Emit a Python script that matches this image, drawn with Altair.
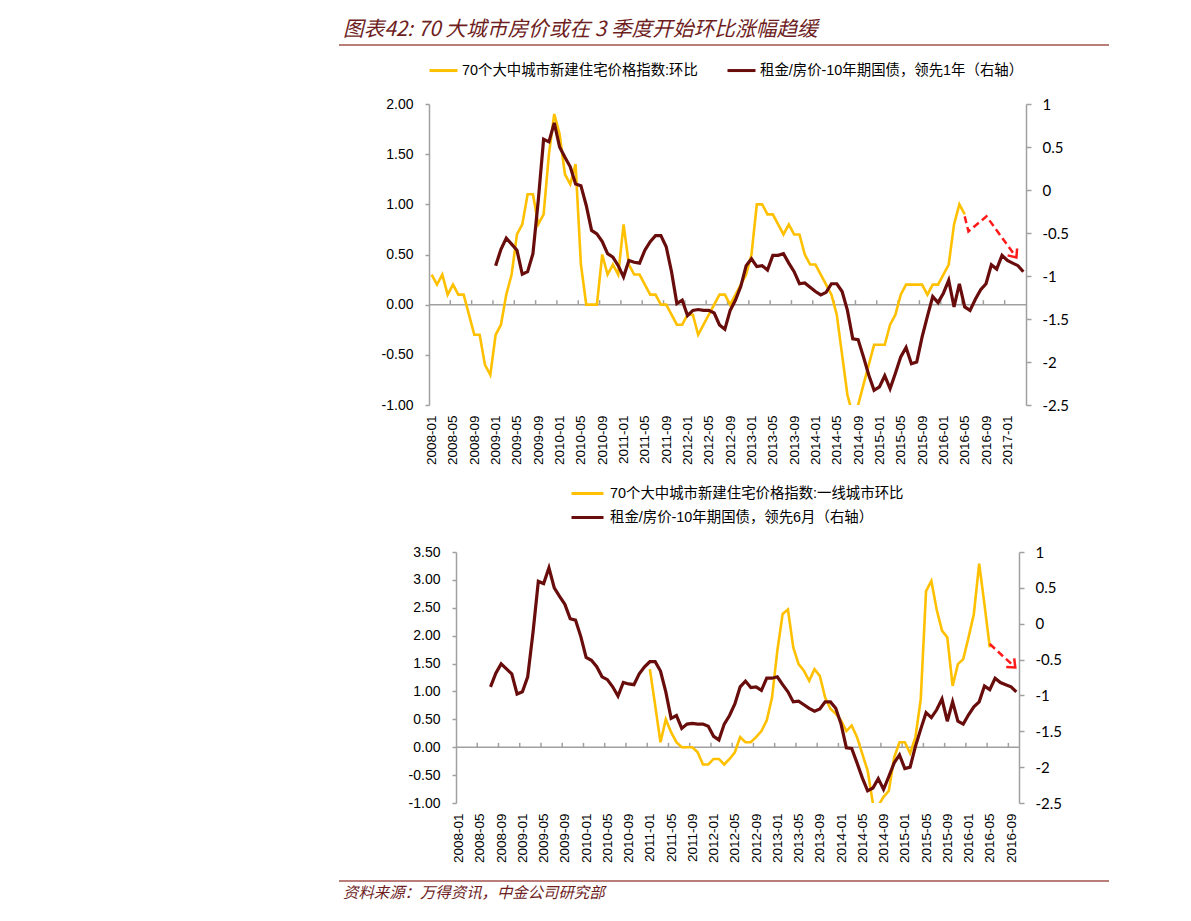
import json
import pandas as pd
import altair as alt

# ---------------- data ----------------
top_tick_labels = ["2008-01", "2008-05", "2008-09", "2009-01", "2009-05", "2009-09",
                   "2010-01", "2010-05", "2010-09", "2011-01", "2011-05", "2011-09",
                   "2012-01", "2012-05", "2012-09", "2013-01", "2013-05", "2013-09",
                   "2014-01", "2014-05", "2014-09", "2015-01", "2015-05", "2015-09",
                   "2016-01", "2016-05", "2016-09", "2017-01"]
bottom_tick_labels = top_tick_labels[:27]

# 70-city new home price index, MoM (%), monthly from 2008-01 (top chart, left axis)
city70_mom = [0.3, 0.2, 0.3, 0.1, 0.2, 0.1, 0.1, -0.1, -0.3, -0.3,
              -0.6, -0.7, -0.3, -0.2, 0.1, 0.3, 0.7, 0.8, 1.1, 1.1,
              0.8, 0.9, 1.5, 1.9, 1.7, 1.3, 1.2, 1.4, 0.4, 0.0,
              0.0, 0.0, 0.5, 0.3, 0.4, 0.3, 0.8, 0.4, 0.3, 0.3,
              0.2, 0.1, 0.1, 0.0, 0.0, -0.1, -0.2, -0.2, -0.1, -0.1,
              -0.3, -0.2, -0.1, 0.0, 0.1, 0.1, 0.0, 0.1, 0.2, 0.3,
              0.5, 1.0, 1.0, 0.9, 0.9, 0.8, 0.7, 0.8, 0.7, 0.7,
              0.5, 0.4, 0.4, 0.3, 0.2, 0.1, -0.1, -0.5, -0.9, -1.1,
              -1.0, -0.8, -0.6, -0.4, -0.4, -0.4, -0.2, -0.1, 0.1, 0.2,
              0.2, 0.2, 0.2, 0.1, 0.2, 0.2, 0.3, 0.4, 0.8, 1.0,
              0.9]

# rent/price minus 10Y government bond yield, monthly (right axis), unshifted
rent_bond_spread = [-0.88, -0.69, -0.56, -0.63, -0.70, -0.98, -0.95, -0.74, -0.12, 0.59,
                    0.56, 0.78, 0.50, 0.38, 0.27, 0.07, 0.05, -0.18, -0.47, -0.51,
                    -0.60, -0.74, -0.78, -0.88, -1.01, -0.82, -0.84, -0.85, -0.70, -0.60,
                    -0.53, -0.53, -0.66, -0.95, -1.32, -1.28, -1.46, -1.40, -1.39, -1.40,
                    -1.40, -1.43, -1.57, -1.62, -1.40, -1.28, -1.12, -0.88, -0.80, -0.89,
                    -0.88, -0.93, -0.76, -0.76, -0.74, -0.85, -0.95, -1.09, -1.08, -1.13,
                    -1.18, -1.22, -1.19, -1.09, -1.09, -1.18, -1.40, -1.73, -1.74, -1.94,
                    -2.15, -2.33, -2.29, -2.16, -2.31, -2.13, -1.94, -1.83, -2.02, -2.00,
                    -1.71, -1.47, -1.24, -1.31, -1.20, -1.05, -1.36, -1.09, -1.36, -1.40,
                    -1.27, -1.16, -1.09, -0.87, -0.92, -0.76, -0.82, -0.85, -0.88, -0.95]

# first-tier city new home price MoM (%), monthly from 2011-01 (bottom chart, left axis)
tier1_mom = [1.40, 0.75, 0.09, 0.50, 0.27, 0.09, 0.0, 0.0, 0.0, -0.09,
             -0.31, -0.31, -0.21, -0.21, -0.31, -0.21, -0.09, 0.18, 0.09, 0.09,
             0.18, 0.29, 0.48, 0.89, 1.73, 2.39, 2.47, 1.79, 1.49, 1.37,
             1.19, 1.40, 1.28, 0.89, 0.69, 0.60, 0.48, 0.29, 0.39, 0.18,
             -0.12, -0.42, -1.01, -1.05, -0.89, -0.78, -0.18, 0.09, 0.09, -0.11,
             0.18, 0.86, 2.80, 2.98, 2.47, 2.09, 1.97, 1.10, 1.49, 1.58,
             1.97, 2.39, 3.29, 2.56, 1.79]

top_lead = 12        # months of lead (top)
bottom_lead = 6      # months of lead (bottom)
tier1_start = 36     # 2011-01 index from 2008-01
top_months = 112     # 2008-01 .. 2017-04
bottom_months = 106  # 2008-01 .. 2016-10

top_names = ["70个大中城市新建住宅价格指数:环比", "租金/房价-10年期国债，领先1年（右轴）"]
bottom_names = ["70个大中城市新建住宅价格指数:一线城市环比", "租金/房价-10年期国债，领先6月（右轴）"]
title_text = "图表42: 70 大城市房价或在 3 季度开始环比涨幅趋缓"
source_text = "资料来源：万得资讯，中金公司研究部"

left_top_ticks = [2.0, 1.5, 1.0, 0.5, 0.0, -0.5, -1.0]
left_bottom_ticks = [3.5, 3.0, 2.5, 2.0, 1.5, 1.0, 0.5, 0.0, -0.5, -1.0]
right_ticks = [1, 0.5, 0, -0.5, -1, -1.5, -2, -2.5]

# dashed trend arrows (annotation, left-axis units)
top_arrow_t = [100.5, 101.2, 104.6, 110.2]
top_arrow_v = [0.88, 0.73, 0.88, 0.47]
bottom_arrow_t = [100.5, 105.3]
bottom_arrow_v = [1.85, 1.43]

# ---------------- styles ----------------
YELLOW = "#FFC000"
MAROON = "#680C0C"
ARROW = "#FF1A1A"
GRAY = "#A0A0A0"
TEXT_RED = "#6E1E1E"
RULE_RED = "#A5524D"
NUM_FONT = "Liberation Sans"
CJK_FONT = "Liberation Sans, Noto Sans CJK SC"
HEAD = "M -1 -0.85 L 0 0 L -1 0.85"

LEFT_EXPR = "(datum.value < 0 ? '-' : '') + format(abs(datum.value), '.2f')"
RIGHT_EXPR = "(datum.value < 0 ? '-' : '') + toString(abs(datum.value))"


def xenc(x_min, n_cat, labels):
    expr = json.dumps(labels) + "[floor(datum.value / 4)]"
    return alt.X("t:Q", scale=alt.Scale(domain=[x_min, n_cat], nice=False, zero=False),
                 axis=alt.Axis(values=[4 * j + 0.5 for j in range(len(labels))], labelExpr=expr,
                               labelAngle=270, domain=False, ticks=False, grid=False,
                               labelPadding=10, labelFont=NUM_FONT, labelFontSize=13.5,
                               labelColor="#000000", labelOverlap=False, labelFlush=False,
                               title=None))


def make_panel(x_min, n_cat, width, height, left_offset, tick_labels, left_dom, left_ticks, tick_h,
               yellow_df, red_df, names, arrow_df, head_angle, legend, decor):
    X = xenc(x_min, n_cat, tick_labels)
    YL = alt.Y("v:Q", scale=alt.Scale(domain=left_dom, nice=False, zero=False),
               axis=alt.Axis(values=left_ticks, labelExpr=LEFT_EXPR, orient="left", title=None,
                             grid=False, domainColor=GRAY, domainWidth=1.5, tickColor=GRAY,
                             tickWidth=1.5, tickSize=4, labelPadding=12, labelFont=NUM_FONT,
                             labelFontSize=14, labelColor="#000000", offset=left_offset))
    YR = alt.Y("v:Q", scale=alt.Scale(domain=[-2.5, 1], nice=False, zero=False),
               axis=alt.Axis(values=right_ticks, labelExpr=RIGHT_EXPR, orient="right", title=None,
                             grid=False, domainColor=GRAY, domainWidth=1.5, tickColor=GRAY,
                             tickWidth=1.5, tickSize=5, labelPadding=11, labelFont="Lato",
                             labelFontSize=15, labelColor="#000000"))
    color = alt.Color("series:N", scale=alt.Scale(domain=names, range=[YELLOW, MAROON]),
                      legend=legend)

    zero_df = pd.DataFrame({"t": [0.0], "t2": [float(n_cat)], "v": [0.0]})
    zero = alt.Chart(zero_df).mark_rule(color=GRAY, strokeWidth=1.5).encode(
        x=X, x2=alt.X2("t2:Q"), y=YL)
    ticks_df = pd.DataFrame({"t": list(range(4, n_cat, 4))})
    ticks_df["v"] = 0.0
    ticks_df["v2"] = tick_h
    ticks = alt.Chart(ticks_df).mark_rule(color=GRAY, strokeWidth=1.5).encode(
        x=X, y=YL, y2=alt.Y2("v2:Q"))
    yellow = alt.Chart(yellow_df).mark_line(strokeWidth=2.6, clip=True).encode(
        x=X, y=YL, color=color)
    arrow = alt.Chart(arrow_df).mark_line(color=ARROW, strokeWidth=2.5, strokeDash=[7, 4]).encode(
        x=X, y=YL, order="o:Q")
    head = alt.Chart(arrow_df.tail(1)).mark_point(
        shape=HEAD, filled=False, size=190, angle=head_angle, color=ARROW,
        strokeWidth=2.5, opacity=1).encode(x=X, y=YL)
    left_layer = alt.layer(zero, ticks, yellow, arrow, head)

    red = alt.Chart(red_df).mark_line(strokeWidth=3.2).encode(x=X, y=YR, color=color)

    return alt.layer(left_layer, red, *decor).resolve_scale(y="independent").properties(
        width=width, height=height)


# ---------------- top panel ----------------
top_yellow = pd.DataFrame({"t": [i + 0.5 for i in range(len(city70_mom))],
                           "v": city70_mom, "series": top_names[0]})
top_red = pd.DataFrame({"t": [top_lead + k + 0.5 for k in range(len(rent_bond_spread))],
                        "v": rent_bond_spread, "series": top_names[1]})
top_arrow = pd.DataFrame({"t": top_arrow_t, "v": top_arrow_v, "o": list(range(len(top_arrow_t)))})

top_legend = alt.Legend(orient="none", legendX=-1, legendY=-49, direction="horizontal", title=None,
                        symbolType="stroke", symbolStrokeWidth=3, symbolSize=784,
                        labelFont=CJK_FONT, labelFontSize=14.4, labelColor="#000000",
                        labelLimit=600, columnPadding=23, labelOffset=3)

title_mark = alt.Chart(pd.DataFrame({"txt": [title_text]})).mark_text(
    align="left", baseline="middle", font="Noto Sans CJK SC", fontSize=20.7, fontStyle="italic",
    color=TEXT_RED).encode(x=alt.value(-86), y=alt.value(-74), text="txt:N")
head_rule = alt.Chart(pd.DataFrame({"a": [0]})).mark_rule(color=RULE_RED, strokeWidth=1.5).encode(
    x=alt.value(-90), x2=alt.value(680), y=alt.value(-59))

top = make_panel(0, top_months, 597, 301, 0, top_tick_labels, [-1, 2], left_top_ticks, 0.045,
                 top_yellow, top_red, top_names, top_arrow, 54, top_legend,
                 [title_mark, head_rule])

# ---------------- bottom panel ----------------
# plot area starts 27 px right of the top one: widen the view and start the x domain early
bottom_inset = 27
bottom_plot_w = 563
bottom_x_min = -bottom_inset * bottom_months / bottom_plot_w

bot_yellow = pd.DataFrame({"t": [tier1_start + i + 0.5 for i in range(len(tier1_mom))],
                           "v": tier1_mom, "series": bottom_names[0]})
bot_red = pd.DataFrame({"t": [bottom_lead + k + 0.5 for k in range(len(rent_bond_spread))],
                        "v": rent_bond_spread, "series": bottom_names[1]})
bot_arrow = pd.DataFrame({"t": bottom_arrow_t, "v": bottom_arrow_v,
                          "o": list(range(len(bottom_arrow_t)))})

bottom_legend = alt.Legend(orient="none", legendX=141, legendY=-76, direction="vertical", title=None,
                           symbolType="stroke", symbolStrokeWidth=3, symbolSize=1024,
                           labelFont=CJK_FONT, labelFontSize=14.4, labelColor="#000000",
                           labelLimit=600, rowPadding=-1, labelOffset=5)

source_mark = alt.Chart(pd.DataFrame({"txt": [source_text]})).mark_text(
    align="left", baseline="middle", font="Noto Sans CJK SC", fontSize=15.4, fontStyle="italic",
    color=TEXT_RED).encode(x=alt.value(-86), y=alt.value(341), text="txt:N")
foot_rule = alt.Chart(pd.DataFrame({"a": [0]})).mark_rule(color=RULE_RED, strokeWidth=1.5).encode(
    x=alt.value(-90), x2=alt.value(680), y=alt.value(329))

bottom = make_panel(bottom_x_min, bottom_months, bottom_plot_w + bottom_inset, 251, -bottom_inset,
                    bottom_tick_labels, [-1, 3.5], left_bottom_ticks, 0.078,
                    bot_yellow, bot_red, bottom_names, bot_arrow, 43, bottom_legend,
                    [source_mark, foot_rule])

chart = alt.vconcat(top, bottom, spacing=11).resolve_scale(
    x="independent", y="independent", color="independent").resolve_legend(
    color="independent").properties(
    padding={"left": 338, "top": 19, "right": 10, "bottom": 10}).configure_view(stroke=None)

chart.save("out.html", embed_options={"renderer": "svg", "actions": False})
